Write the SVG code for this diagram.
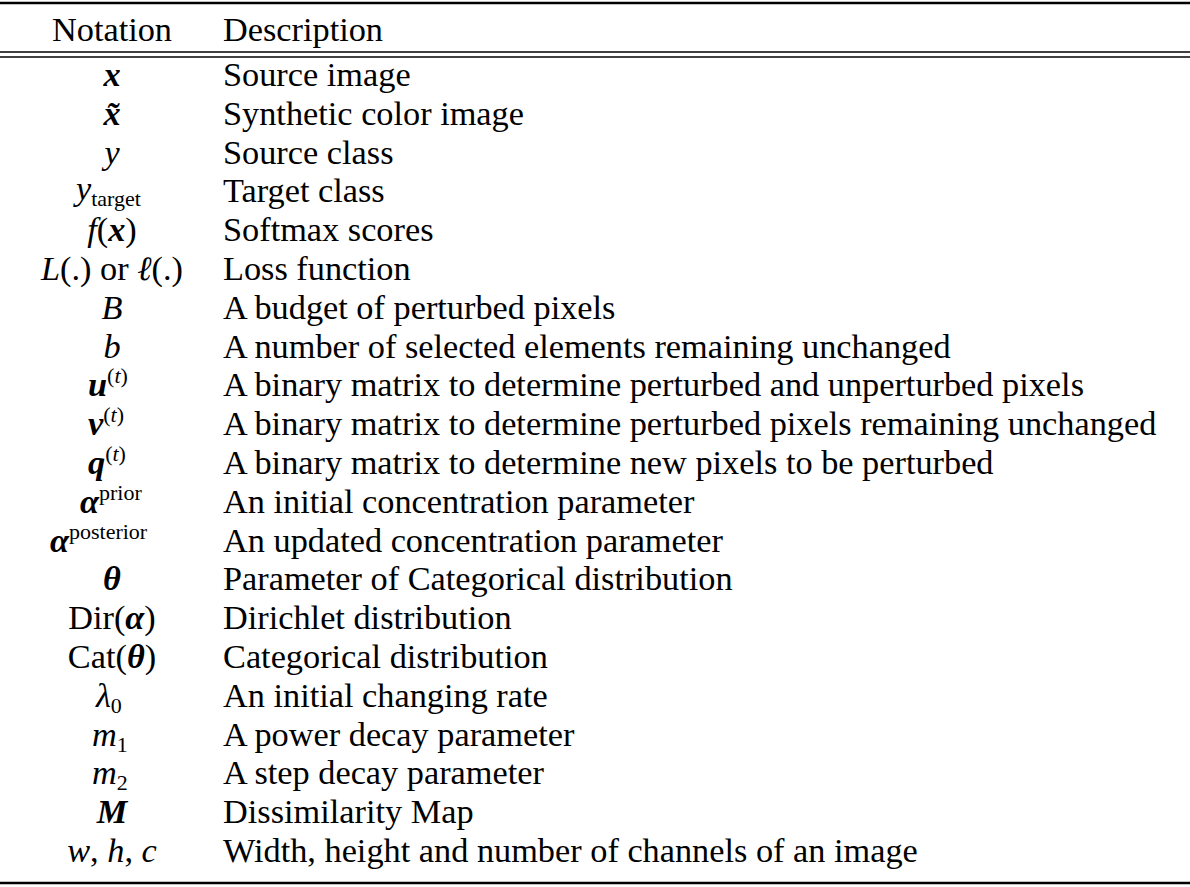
<svg xmlns="http://www.w3.org/2000/svg" width="1190" height="887" viewBox="0 0 1190 887">
<style>
text{font-family:"Liberation Serif","Times New Roman",serif;font-size:34.3px;fill:#000}
.n{text-anchor:middle}
.i{font-style:italic}
.b{font-style:italic;font-weight:bold}
.s{font-size:22px}
line{stroke:#000}
</style>
<rect width="1190" height="887" fill="#fff"/>
<line x1="0" y1="3" x2="1190" y2="3" stroke-width="2.5"/>
<line x1="0" y1="52" x2="1190" y2="52" stroke-width="1.3"/>
<line x1="0" y1="57" x2="1190" y2="57" stroke-width="1.3"/>
<line x1="0" y1="883" x2="1190" y2="883" stroke-width="2.5"/>
<g id="header"><text class="n" x="112" y="41">Notation</text><text x="223" y="41">Description</text></g>
<g id="rows">
<text class="n b" x="112" y="86">x</text><text x="223" y="86">Source image</text>
<text class="n b" x="112" y="125">x̃</text><text x="223" y="125">Synthetic color image</text>
<text class="n i" x="112" y="164">y</text><text x="223" y="164">Source class</text>
<text x="76" y="200"><tspan class="i">y</tspan><tspan class="s" dy="6">target</tspan></text><text x="223" y="202">Target class</text>
<text class="n" x="112" y="241"><tspan class="i">f</tspan>(<tspan class="b">x</tspan>)</text><text x="223" y="241">Softmax scores</text>
<text class="n" x="112" y="280"><tspan class="i">L</tspan>(.) or <tspan class="i">ℓ</tspan>(.)</text><text x="223" y="280">Loss function</text>
<text class="n i" x="112" y="319">B</text><text x="223" y="319">A budget of perturbed pixels</text>
<text class="n i" x="112" y="358">b</text><text x="223" y="358">A number of selected elements remaining unchanged</text>
<text x="88" y="396"><tspan class="b">u</tspan><tspan class="s" dy="-13">(<tspan class="i">t</tspan>)</tspan></text><text x="223" y="396">A binary matrix to determine perturbed and unperturbed pixels</text>
<text x="88" y="435"><tspan class="b">v</tspan><tspan class="s" dy="-13">(<tspan class="i">t</tspan>)</tspan></text><text x="223" y="435">A binary matrix to determine perturbed pixels remaining unchanged</text>
<text x="88" y="474"><tspan class="b">q</tspan><tspan class="s" dy="-13">(<tspan class="i">t</tspan>)</tspan></text><text x="223" y="474">A binary matrix to determine new pixels to be perturbed</text>
<text x="80" y="513"><tspan class="b">α</tspan><tspan class="s" dy="-13">prior</tspan></text><text x="223" y="513">An initial concentration parameter</text>
<text x="50" y="552"><tspan class="b">α</tspan><tspan class="s" dy="-13">posterior</tspan></text><text x="223" y="552">An updated concentration parameter</text>
<text class="n b" x="112" y="590">θ</text><text x="223" y="590">Parameter of Categorical distribution</text>
<text class="n" x="112" y="629">Dir(<tspan class="b">α</tspan>)</text><text x="223" y="629">Dirichlet distribution</text>
<text class="n" x="112" y="668">Cat(<tspan class="b">θ</tspan>)</text><text x="223" y="668">Categorical distribution</text>
<text x="96" y="707"><tspan class="i">λ</tspan><tspan class="s" dy="6">0</tspan></text><text x="223" y="707">An initial changing rate</text>
<text x="92" y="746"><tspan class="i">m</tspan><tspan class="s" dy="6">1</tspan></text><text x="223" y="746">A power decay parameter</text>
<text x="92" y="784"><tspan class="i">m</tspan><tspan class="s" dy="6">2</tspan></text><text x="223" y="784">A step decay parameter</text>
<text class="n b" x="112" y="823">M</text><text x="223" y="823">Dissimilarity Map</text>
<text class="n" x="112" y="862"><tspan class="i">w</tspan>, <tspan class="i">h</tspan>, <tspan class="i">c</tspan></text><text x="223" y="862">Width, height and number of channels of an image</text>
</g>
</svg>
